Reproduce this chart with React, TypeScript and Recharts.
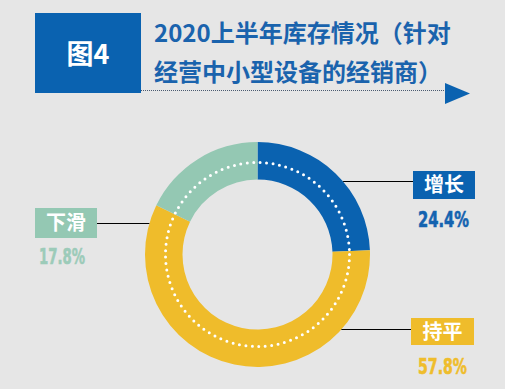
import React from "react";
import { PieChart, Pie, Cell } from "recharts";

const categories = ["增长", "持平", "下滑"];
const shares = [24.4, 57.8, 17.8];
const shareLabels = ["24.4%", "57.8%", "17.8%"];
const titleLines = ["2020上半年库存情况（针对", "经营中小型设备的经销商）"];
const figureTag = "图4";

const COLORS = ["#0a62b0", "#efbc2b", "#94c8b3"];
const TEXT_COLORS = ["#1463b0", "#efbd2c", "#9ccbb9"];
const BG = "#e6e6e6";
const W = 505;
const H = 389;
const CX = 257.5;
const CY = 254.5;
const R_IN = 75;
const R_OUT = 112.5;

// label placement (layout only)
const LABEL_LAYOUT = [
  { side: 1, lineY: 181.5, boxX: 413, boxY: 171, boxW: 62, boxH: 28, pctX: 418, pctBase: 227, pctW: 51 },
  { side: 1, lineY: 329.5, boxX: 411, boxY: 318, boxW: 63, boxH: 27, pctX: 418, pctBase: 374, pctW: 49 },
  { side: -1, lineY: 223.5, boxX: 35, boxY: 208, boxW: 62, boxH: 30, pctX: 39, pctBase: 264, pctW: 46 },
];

const data = categories.map((name, i) => ({ name, value: shares[i] }));

const renderLabel = (props: any) => {
  const { cx, cy, outerRadius, index } = props;
  const L = LABEL_LAYOUT[index];
  const dy = L.lineY - cy;
  const dx = Math.sqrt(Math.max(0, outerRadius * outerRadius - dy * dy));
  const startX = cx + L.side * dx;
  const endX = L.side > 0 ? L.boxX : L.boxX + L.boxW;
  return (
    <g key={`lbl-${index}`}>
      <line x1={startX} y1={L.lineY} x2={endX} y2={L.lineY} stroke="#000000" strokeWidth={1} />
      <rect x={L.boxX} y={L.boxY} width={L.boxW} height={L.boxH} fill={COLORS[index]} />
      <text
        x={L.boxX + L.boxW / 2}
        y={L.boxY + L.boxH / 2 + 7}
        textAnchor="middle"
        fill="#ffffff"
        fontSize={20}
        fontWeight={700}
        fontFamily="'Noto Sans CJK SC', sans-serif"
      >
        {categories[index]}
      </text>
      <text
        x={L.pctX}
        y={L.pctBase}
        fill={TEXT_COLORS[index]}
        stroke={TEXT_COLORS[index]}
        strokeWidth={0.6}
        fontSize={22}
        fontWeight={700}
        fontFamily="'DejaVu Sans Condensed', 'Liberation Sans Narrow', sans-serif"
        textLength={L.pctW}
        lengthAdjust="spacingAndGlyphs"
      >
        {shareLabels[index]}
      </text>
    </g>
  );
};

export default function App() {
  return (
    <div style={{ position: "absolute", left: 0, top: 0, width: W, height: H, background: BG, overflow: "hidden" }}>
      <svg width={W} height={H} style={{ position: "absolute", left: 0, top: 0 }}>
        <rect x={35} y={13} width={106} height={80} fill="#0a62b0" />
        <text
          x={88}
          y={64}
          textAnchor="middle"
          fill="#ffffff"
          fontSize={27}
          fontWeight={700}
          fontFamily="'Noto Sans CJK SC', sans-serif"
        >
          {figureTag}
        </text>
        {titleLines.map((t, i) => (
          <text
            key={i}
            x={154}
            y={42 + i * 39}
            fill="#1a63ad"
            fontSize={24}
            fontWeight={700}
            fontFamily="'Noto Sans CJK SC', sans-serif"
          >
            {t}
          </text>
        ))}
        <line x1={141} y1={90.5} x2={446} y2={90.5} stroke="#4a5a70" strokeWidth={1} strokeDasharray="1 1" />
        <polygon points="445,83 470,93.5 445,104" fill="#0a62b0" />
      </svg>
      <div style={{ position: "absolute", left: 0, top: 0 }}>
        <PieChart width={W} height={H} margin={{ top: 0, right: 0, bottom: 0, left: 0 }}>
          <Pie
            data={data}
            dataKey="value"
            nameKey="name"
            cx={CX}
            cy={CY}
            innerRadius={R_IN}
            outerRadius={R_OUT}
            startAngle={90}
            endAngle={-270}
            stroke="none"
            label={renderLabel}
            labelLine={false}
            isAnimationActive={false}
          >
            {data.map((d, i) => (
              <Cell key={d.name} fill={COLORS[i]} />
            ))}
          </Pie>
        </PieChart>
      </div>
      <svg width={W} height={H} style={{ position: "absolute", left: 0, top: 0, pointerEvents: "none" }}>
        <circle
          cx={CX}
          cy={CY}
          r={92}
          fill="none"
          stroke="#ffffff"
          strokeWidth={3}
          strokeLinecap="round"
          strokeDasharray="0 6.5"
        />
      </svg>
    </div>
  );
}
